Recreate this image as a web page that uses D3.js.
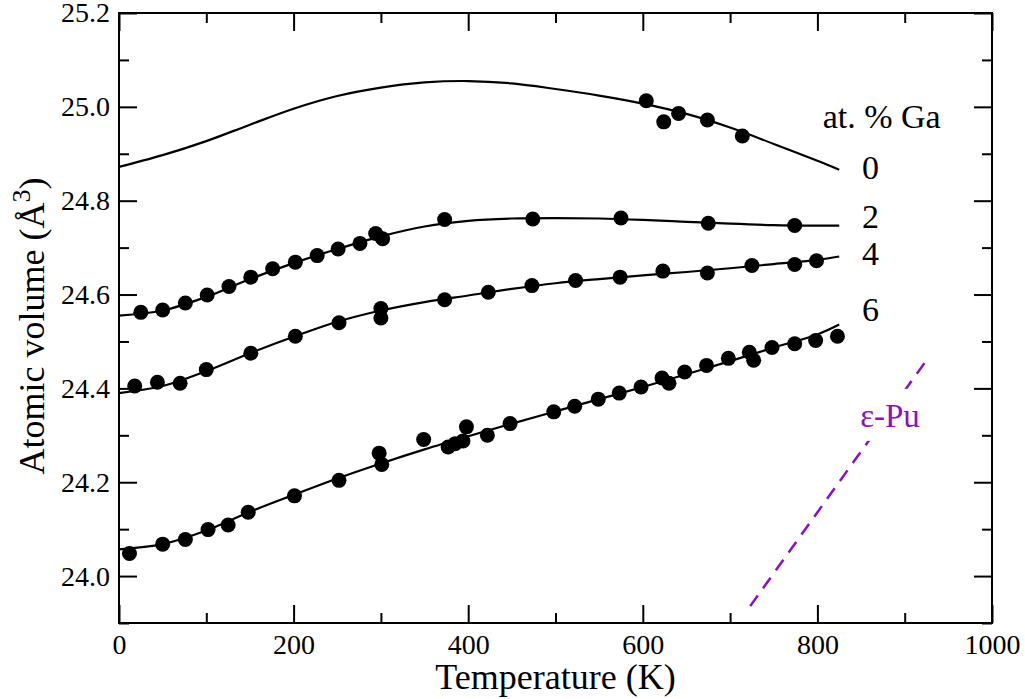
<!DOCTYPE html>
<html>
<head>
<meta charset="utf-8">
<script src="https://cdn.jsdelivr.net/npm/d3@7"></script>
<style>
  body { margin: 0; background: #fff; }
  svg text { font-family: "Liberation Serif", "Times New Roman", Times, "DejaVu Serif", serif !important; fill: #000; }
  svg text.eps { fill: #8a0fc8; }
</style>
</head>
<body>
<svg id="chart" width="1025" height="699"></svg>
<script>

// fitted curves, sampled every 50 K
const fitTemp = [0, 50, 100, 150, 200, 250, 300, 350, 400, 450, 500, 550, 600, 650, 700, 750, 800, 825];
const fit0 = [24.872, 24.897, 24.927, 24.962, 24.996, 25.023, 25.041, 25.052, 25.055, 25.050, 25.038, 25.024, 25.007, 24.985, 24.956, 24.921, 24.885, 24.866];
const fit2 = [24.555, 24.566, 24.595, 24.633, 24.667, 24.697, 24.724, 24.745, 24.757, 24.762, 24.763, 24.762, 24.759, 24.755, 24.751, 24.748, 24.747, 24.747];
const fit4 = [24.390, 24.405, 24.437, 24.475, 24.510, 24.542, 24.566, 24.584, 24.598, 24.612, 24.624, 24.633, 24.641, 24.648, 24.656, 24.665, 24.674, 24.681];
const fit6 = [24.057, 24.068, 24.097, 24.137, 24.173, 24.208, 24.240, 24.270, 24.298, 24.325, 24.351, 24.377, 24.403, 24.430, 24.458, 24.487, 24.515, 24.536];

// measured points
const ga0T = [604, 624, 641, 674, 714];
const ga0V = [25.013, 24.968, 24.986, 24.972, 24.938];

const ga2T = [25, 50, 76, 101, 126, 151, 176, 202, 227, 251, 276, 294, 302, 373, 474, 575, 675, 774];
const ga2V = [24.562, 24.567, 24.582, 24.599, 24.617, 24.637, 24.655, 24.669, 24.683, 24.697, 24.709, 24.730, 24.719, 24.760, 24.761, 24.763, 24.752, 24.747];

const ga4T = [18, 44, 70, 100, 151, 202, 252, 300, 300, 373, 423, 473, 523, 574, 623, 674, 725, 774, 799];
const ga4V = [24.405, 24.413, 24.411, 24.440, 24.475, 24.511, 24.540, 24.570, 24.550, 24.589, 24.605, 24.619, 24.630, 24.637, 24.650, 24.646, 24.662, 24.664, 24.672];

const ga6T = [12, 50, 76, 102, 125, 148, 201, 252, 298, 301, 349, 377, 385, 394, 398, 422, 448, 498, 522, 549, 573, 598, 622, 630, 648, 673, 698, 722, 727, 748, 774, 798, 823];
const ga6V = [24.048, 24.068, 24.078, 24.099, 24.109, 24.136, 24.171, 24.204, 24.262, 24.238, 24.291, 24.275, 24.282, 24.288, 24.318, 24.300, 24.325, 24.350, 24.362, 24.377, 24.390, 24.403, 24.422, 24.411, 24.435, 24.449, 24.464, 24.477, 24.460, 24.487, 24.495, 24.502, 24.511];

// epsilon-Pu reference line
const epsT = [723, 923];
const epsV = [23.936, 24.455];

const seriesNames = ["0", "2", "4", "6"];
const seriesLabelV = [24.847, 24.741, 24.664, 24.544];

const xMajor = [0, 200, 400, 600, 800, 1000];
const xMinor = [100, 300, 500, 700, 900];
const yMajor = [24.0, 24.2, 24.4, 24.6, 24.8, 25.0, 25.2];
const yMinor = [23.9, 24.1, 24.3, 24.5, 24.7, 24.9, 25.1];

const svg = d3.select("#chart");
const margin = {left: 119, top: 13, right: 33, bottom: 76};
const W = 1025 - margin.left - margin.right;
const H = 699 - margin.top - margin.bottom;
const g = svg.append("g").attr("transform", `translate(${margin.left},${margin.top})`);

const x = d3.scaleLinear().domain([0, 1000]).range([0, W]);
const y = d3.scaleLinear().domain([23.9, 25.2]).range([H, 0]);

// axes with inward ticks on all four sides
function styleAxis(sel) {
  sel.attr("font-family", null).attr("font-size", null);
  sel.select(".domain").remove();
  sel.selectAll("line").attr("stroke", "#000").attr("stroke-width", 2);
  sel.selectAll("text").style("font-size", "28px").attr("fill", "#000");
}

g.append("g").attr("transform", `translate(0,${H})`)
  .call(d3.axisBottom(x).tickValues(xMajor).tickSize(-18).tickPadding(11).tickFormat(d3.format("d")))
  .call(styleAxis);
g.append("g").attr("transform", `translate(0,${H})`)
  .call(d3.axisBottom(x).tickValues(xMinor).tickSize(-10).tickFormat(""))
  .call(styleAxis);
g.append("g")
  .call(d3.axisTop(x).tickValues(xMajor).tickSize(-18).tickFormat(""))
  .call(styleAxis);
g.append("g")
  .call(d3.axisTop(x).tickValues(xMinor).tickSize(-10).tickFormat(""))
  .call(styleAxis);

g.append("g")
  .call(d3.axisLeft(y).tickValues(yMajor).tickSize(-18).tickPadding(9).tickFormat(d3.format(".1f")))
  .call(styleAxis);
g.append("g")
  .call(d3.axisLeft(y).tickValues(yMinor).tickSize(-10).tickFormat(""))
  .call(styleAxis);
g.append("g").attr("transform", `translate(${W},0)`)
  .call(d3.axisRight(y).tickValues(yMajor).tickSize(-18).tickFormat(""))
  .call(styleAxis);
g.append("g").attr("transform", `translate(${W},0)`)
  .call(d3.axisRight(y).tickValues(yMinor).tickSize(-10).tickFormat(""))
  .call(styleAxis);

g.append("rect")
  .attr("width", W).attr("height", H)
  .attr("fill", "none").attr("stroke", "#000").attr("stroke-width", 2);

// fitted curves
const line = d3.line()
  .x(d => x(d[0])).y(d => y(d[1]))
  .curve(d3.curveCatmullRom.alpha(0.5));

[fit0, fit2, fit4, fit6].forEach(fit => {
  g.append("path")
    .datum(fitTemp.map((t, i) => [t, fit[i]]))
    .attr("d", line)
    .attr("fill", "none")
    .attr("stroke", "#000")
    .attr("stroke-width", 2.2);
});

// data points
[[ga0T, ga0V], [ga2T, ga2V], [ga4T, ga4V], [ga6T, ga6V]].forEach(([ts, vs]) => {
  g.append("g").selectAll("circle")
    .data(ts.map((t, i) => [t, vs[i]]))
    .enter().append("circle")
    .attr("cx", d => x(d[0]))
    .attr("cy", d => y(d[1]))
    .attr("r", 7.5)
    .attr("fill", "#000");
});

// epsilon-Pu dashed line with label cut-out
const epsColor = "#8a0fc8";
g.append("path")
  .datum(epsT.map((t, i) => [t, epsV[i]]))
  .attr("d", d3.line().x(d => x(d[0])).y(d => y(d[1])))
  .attr("fill", "none")
  .attr("stroke", epsColor)
  .attr("stroke-width", 2.5)
  .attr("stroke-dasharray", "13,9");

const epsLabelT = 849, epsLabelV = 24.318;
g.append("rect")
  .attr("x", x(epsLabelT) - 3).attr("y", y(epsLabelV) - 38)
  .attr("width", 74).attr("height", 52)
  .attr("fill", "#fff");
g.append("text")
  .attr("class", "eps")
  .attr("x", x(epsLabelT)).attr("y", y(epsLabelV))
  .style("font-size", "33px")
  .text("ε-Pu");

// series labels
g.append("text")
  .attr("x", x(806)).attr("y", y(24.954))
  .style("font-size", "34px")
  .text("at. % Ga");

g.selectAll(".slabel")
  .data(seriesNames)
  .enter().append("text")
  .attr("class", "slabel")
  .attr("x", x(851))
  .attr("y", (d, i) => y(seriesLabelV[i]))
  .style("font-size", "34px")
  .text(d => d);

// axis titles
svg.append("text")
  .attr("x", margin.left + W / 2).attr("y", 689)
  .attr("text-anchor", "middle")
  .style("font-size", "36px")
  .text("Temperature (K)");

const yt = svg.append("text")
  .attr("transform", `translate(44,${margin.top + H / 2 + 8}) rotate(-90)`)
  .attr("text-anchor", "middle")
  .style("font-size", "36px");
yt.append("tspan").text("Atomic volume (Å");
yt.append("tspan").attr("dy", -14).style("font-size", "26px").text("3");
yt.append("tspan").attr("dy", 14).text(")");

</script>
</body>
</html>
